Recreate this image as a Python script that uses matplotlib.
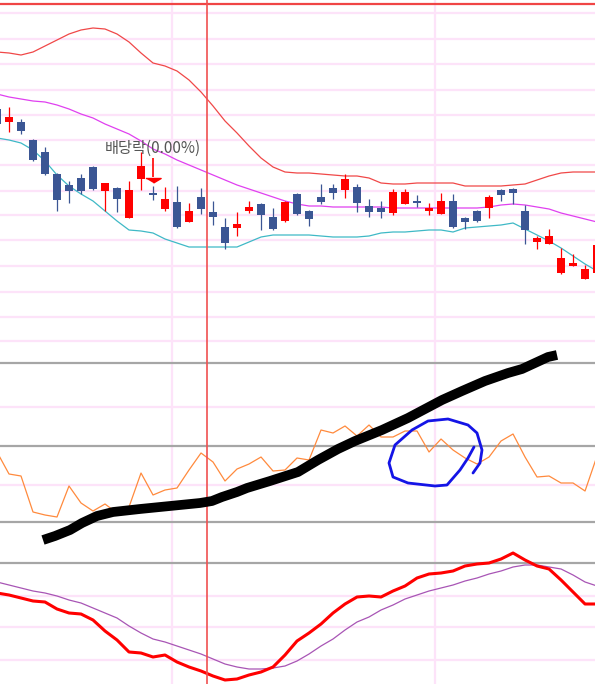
import matplotlib.pyplot as plt
from matplotlib.lines import Line2D

# vertical unit is the chart row (smaller number = higher on screen / higher price)
opens = [109, 122, 122, 140, 152, 174, 185, 178, 167, 191, 188, 218, 179, 193, 209, 202, 222,
         197, 212, 227, 228, 211, 204, 217, 221, 194, 211, 197, 188, 190, 187, 206, 208, 213,
         204, 201, 211, 214, 201, 218, 211, 208, 190, 189, 211, 242, 244, 273, 266, 279, 273]
highs = [106, 107, 119, 139, 147, 173, 181, 174, 166, 183, 187, 181, 152, 186, 187, 186, 203,
         188, 201, 218, 212, 201, 203, 208, 201, 193, 210, 184, 184, 174, 184, 199, 201, 189,
         189, 195, 203, 193, 194, 217, 210, 195, 189, 188, 205, 236, 229, 248, 254, 265, 243]
lows = [126, 132, 134, 161, 175, 211, 203, 194, 190, 211, 212, 218, 190, 200, 211, 228, 222,
        214, 225, 249, 236, 213, 230, 230, 222, 215, 226, 204, 199, 198, 212, 217, 218, 215,
        204, 207, 215, 214, 228, 229, 222, 218, 201, 204, 244, 249, 244, 274, 266, 279, 274]
closes = [124, 117, 131, 160, 174, 200, 191, 191, 189, 183, 199, 190, 166, 194, 199, 227, 211,
          209, 217, 243, 224, 207, 215, 229, 202, 214, 219, 202, 193, 179, 203, 212, 212, 192,
          192, 203, 208, 201, 227, 222, 221, 197, 195, 193, 230, 238, 236, 258, 263, 269, 245]

bb_upper = [52, 53, 55, 52, 46, 40, 34, 30, 28, 29, 34, 42, 53, 63, 66, 71, 80, 92, 106, 121,
            133, 146, 158, 167, 172, 173, 173, 174, 175, 176, 176, 178, 183, 184, 184, 183, 183,
            183, 183, 186, 186, 186, 186, 185, 184, 180, 176, 173, 172, 172, 172]
bb_mid = [94, 97, 99, 101, 102, 105, 109, 114, 118, 124, 129, 134, 141, 149, 154, 160, 165, 170,
          175, 180, 185, 189, 193, 197, 201, 204, 206, 206, 207, 207, 207, 207, 207, 208, 208,
          208, 208, 208, 208, 208, 208, 207, 205, 204, 205, 207, 209, 213, 216, 219, 222]
bb_lower = [138, 140, 143, 150, 161, 175, 186, 194, 201, 211, 221, 230, 231, 233, 239, 243, 247,
            247, 247, 247, 247, 242, 237, 235, 235, 235, 235, 236, 237, 237, 237, 236, 233, 232,
            232, 231, 230, 230, 232, 228, 227, 226, 225, 223, 229, 235, 241, 248, 256, 264, 271]

rsi = [452, 474, 476, 512, 515, 517, 486, 503, 511, 504, 513, 507, 473, 495, 490, 488, 470,
       453, 462, 481, 469, 464, 457, 471, 470, 458, 460, 430, 433, 426, 436, 425, 437, 437,
       431, 431, 452, 439, 450, 458, 464, 457, 441, 434, 457, 477, 476, 483, 483, 491, 456]

macd = [593, 595, 598, 601, 602, 609, 613, 614, 620, 631, 640, 652, 653, 657, 655, 662, 667,
        671, 676, 680, 679, 675, 672, 667, 655, 641, 633, 624, 613, 604, 597, 596, 597, 591,
        586, 578, 574, 573, 571, 566, 564, 563, 559, 553, 560, 566, 569, 580, 592, 604, 604]
signal = [582, 585, 588, 591, 593, 596, 600, 603, 608, 613, 618, 626, 633, 639, 642, 646, 650,
          654, 659, 664, 667, 669, 669, 668, 666, 661, 654, 646, 639, 630, 622, 617, 610, 605,
          599, 595, 591, 588, 585, 581, 578, 574, 571, 567, 565, 565, 567, 569, 575, 582, 586]

price_grid = [13, 39, 64, 90, 115, 140, 165, 191, 215, 240, 266, 292, 317, 341]
rsi_grid = [407, 485]
macd_grid = [596, 627, 660]
panel_lines = [363, 446, 522, 563]
date_lines = [14.6, 36.5]
cursor_idx = 17.5
event_idx = 13
event_label = '배당락(0.00%)'

# hand-drawn marks, screen pixels
pen_x = [43, 55, 70, 82, 97, 113, 140, 170, 200, 212, 222, 237, 247, 270, 298, 318, 338, 355,
         382, 408, 442, 462, 485, 508, 522, 535, 548, 557]
pen_y = [540, 536, 530, 523, 516, 512, 509, 506, 503, 501, 497, 492, 488, 481, 472, 460, 449,
         441, 430, 418, 400, 391, 381, 373, 369, 363, 357, 355]
loop_x = [473, 480, 482, 477, 468, 448, 428, 412, 395, 389, 393, 408, 435, 447, 460, 468, 474]
loop_y = [473, 463, 450, 433, 425, 419, 421, 430, 445, 463, 477, 483, 486, 485, 470, 458, 447]

UP = '#ff0000'
DOWN = '#3b5694'

fig = plt.figure(figsize=(5.95, 6.84), dpi=100)
ax = fig.add_axes([0, 0, 1, 1])
ax.set_xlim(0.25, 49.83)
ax.set_ylim(684, 0)
ax.axis('off')

for y in price_grid + rsi_grid + macd_grid:
    ax.axhline(y, color='#fde3f9', lw=1.6, zorder=0)
for x in date_lines:
    ax.axvline(x, color='#fde3f9', lw=1.6, zorder=0)
for y in panel_lines:
    ax.axhline(y, color='#a6a6a6', lw=1.6, zorder=1)
ax.axhline(3.5, color='#f04545', lw=1.6, zorder=1)

idx = list(range(len(opens)))
ax.plot(idx, bb_upper, color='#f04848', lw=0.9, zorder=2)
ax.plot(idx, bb_mid, color='#e040f0', lw=0.9, zorder=2)
ax.plot(idx, bb_lower, color='#3fb9c6', lw=0.9, zorder=2)

for i in idx:
    o, h, l, c = opens[i], highs[i], lows[i], closes[i]
    col = UP if c < o else DOWN
    ax.vlines(i, h, l, color=col, lw=0.9, zorder=3)
    ax.bar(i, max(abs(c - o), 1.5), bottom=min(o, c), width=0.68, color=col, lw=0, zorder=4)

# event marker
ax.text(event_idx, 148, event_label, ha='center', va='center', fontsize=11,
        color='#555555', family=['Noto Sans CJK KR', 'DejaVu Sans'], zorder=6)
ax.vlines(event_idx, 158, 177, color=UP, lw=1.2, zorder=6)
ax.plot(event_idx, 178, marker=[(-1, 0), (1, 0), (0, -0.6)], ms=11, color=UP, zorder=6)

ax.plot(idx, rsi, color='#ff8a3d', lw=0.9, zorder=2)
ax.plot(idx, signal, color='#a855b5', lw=0.9, zorder=2)
ax.plot(idx, macd, color='#ff0000', lw=2.2, zorder=3)

ax.axvline(cursor_idx, color='#f05050', lw=1.2, zorder=5)

pen = fig.add_axes([0, 0, 1, 1])
pen.set_xlim(0, 595)
pen.set_ylim(684, 0)
pen.axis('off')
pen.patch.set_alpha(0)
pen.add_line(Line2D(pen_x, pen_y, color='black', lw=7, solid_capstyle='butt',
                    solid_joinstyle='round'))
pen.plot(loop_x, loop_y, color='#1414e6', lw=2.0, solid_capstyle='round')

fig.savefig('out.png', dpi=100)
